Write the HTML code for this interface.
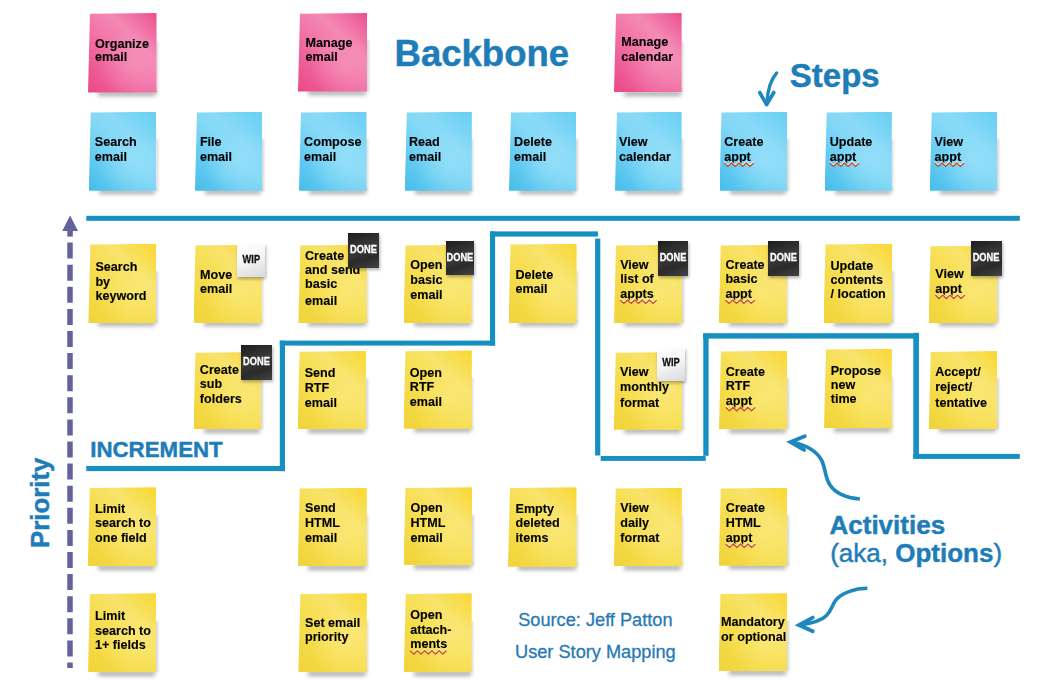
<!DOCTYPE html><html><head><meta charset="utf-8"><style>
*{margin:0;padding:0;box-sizing:border-box}
html,body{width:1062px;height:686px;overflow:hidden;background:#fff}
body{position:relative;font-family:"Liberation Sans",sans-serif}
.n{position:absolute;clip-path:polygon(2px 0.8px,100% 0,100% 100%,0 100%)}
.sh2{position:absolute;background:rgba(60,60,60,.22);filter:blur(1px)}
.sh{position:absolute;background:rgba(60,60,60,.42);filter:blur(2px)}
.n.y{background:radial-gradient(ellipse 50% 45% at 65% 62%,rgba(252,238,140,.5),rgba(252,238,140,0)),linear-gradient(45deg,#f1d33a 0%,#f5db48 30%,#f7e05a 55%,#f8e36c 68%,#f8dd4e 85%,#fad832 100%)}
.n.b{background:radial-gradient(ellipse 50% 45% at 65% 65%,rgba(160,228,250,.55),rgba(160,228,250,0)),linear-gradient(45deg,#45bce8 0%,#66ccf2 28%,#84d8f6 52%,#88daf7 66%,#76d4f5 85%,#68cff4 100%)}
.n.p{background:radial-gradient(ellipse 50% 45% at 65% 65%,rgba(248,160,195,.5),rgba(248,160,195,0)),linear-gradient(45deg,#eb4888 0%,#ef639c 30%,#f27eae 55%,#f388b3 68%,#f06ba2 85%,#ee4c8c 100%)}
.wrap{position:absolute;left:0;top:0;width:1062px;height:686px;z-index:1}
.t{position:absolute;font-weight:bold;font-size:12.6px;line-height:1;color:#000;white-space:nowrap;-webkit-text-stroke:0.12px #000;transform:scaleY(1.06);transform-origin:0 10.67px}
.tag{position:absolute;z-index:3}
.tag{box-shadow:1px 2px 3px rgba(0,0,0,.3)}
.done{background:linear-gradient(160deg,#1c1c1c 0%,#3a3a3a 45%,#2a2a2a 70%,#444 100%)}
.wip{background:linear-gradient(160deg,#ffffff 0%,#f4f4f6 50%,#d8d8de 100%)}
.tt{position:absolute;font-weight:bold;font-size:9.3px;line-height:1;white-space:nowrap;transform:scaleY(1.1);transform-origin:0 7.62px}
.h{position:absolute;color:#1e7db9;font-weight:bold;white-space:nowrap;line-height:1;-webkit-text-stroke:0.45px #1e7db9}
.s{position:absolute;color:#267ab4;white-space:nowrap;line-height:1;-webkit-text-stroke:0.3px #267ab4}
</style></head><body>
<div class="sh" style="left:98px;top:91px;width:57.5px;height:5px"></div>
<div class="sh" style="left:308px;top:90px;width:58px;height:5px"></div>
<div class="sh" style="left:624px;top:90.5px;width:56.6px;height:5px"></div>
<div class="sh" style="left:98.8px;top:189.3px;width:56.7px;height:5px"></div>
<div class="sh" style="left:205px;top:189.3px;width:56px;height:5px"></div>
<div class="sh" style="left:309px;top:189.3px;width:56.5px;height:5px"></div>
<div class="sh" style="left:414.8px;top:189.3px;width:56px;height:5px"></div>
<div class="sh" style="left:519px;top:189.3px;width:56.4px;height:5px"></div>
<div class="sh" style="left:625px;top:189.3px;width:55.6px;height:5px"></div>
<div class="sh" style="left:729.5px;top:189.3px;width:56.5px;height:5px"></div>
<div class="sh" style="left:834.7px;top:189.3px;width:56.1px;height:5px"></div>
<div class="sh" style="left:939.8px;top:189.3px;width:56.6px;height:5px"></div>
<div class="sh" style="left:98.4px;top:321.4px;width:56.9px;height:5px"></div>
<div class="sh" style="left:203.5px;top:321.4px;width:57.2px;height:5px"></div>
<div class="sh" style="left:308.4px;top:321.4px;width:57.4px;height:5px"></div>
<div class="sh" style="left:413.5px;top:321.4px;width:57.2px;height:5px"></div>
<div class="sh" style="left:518.6px;top:321.4px;width:57px;height:5px"></div>
<div class="sh" style="left:624px;top:321.4px;width:57px;height:5px"></div>
<div class="sh" style="left:728.8px;top:321.4px;width:57px;height:5px"></div>
<div class="sh" style="left:833.5px;top:321.4px;width:57.8px;height:5px"></div>
<div class="sh" style="left:938.5px;top:321.4px;width:57.9px;height:5px"></div>
<div class="sh" style="left:203.5px;top:427.7px;width:56.5px;height:5px"></div>
<div class="sh" style="left:307.6px;top:427.7px;width:57.8px;height:5px"></div>
<div class="sh" style="left:413.5px;top:427.3px;width:57.4px;height:5px"></div>
<div class="sh" style="left:623.8px;top:428.2px;width:57.2px;height:5px"></div>
<div class="sh" style="left:729px;top:427.5px;width:57px;height:5px"></div>
<div class="sh" style="left:834px;top:426.8px;width:56.9px;height:5px"></div>
<div class="sh" style="left:938.8px;top:427.4px;width:57.6px;height:5px"></div>
<div class="sh" style="left:97.8px;top:564.8px;width:57.5px;height:5px"></div>
<div class="sh" style="left:307.8px;top:564.8px;width:58px;height:5px"></div>
<div class="sh" style="left:413.5px;top:564px;width:57.8px;height:5px"></div>
<div class="sh" style="left:518px;top:565.2px;width:57.5px;height:5px"></div>
<div class="sh" style="left:623.8px;top:564.8px;width:57.1px;height:5px"></div>
<div class="sh" style="left:728.8px;top:564.3px;width:57.6px;height:5px"></div>
<div class="sh" style="left:98px;top:670.8px;width:57.3px;height:5px"></div>
<div class="sh" style="left:308.4px;top:670.8px;width:57.4px;height:5px"></div>
<div class="sh" style="left:413.8px;top:670.8px;width:56.9px;height:5px"></div>
<div class="sh" style="left:728.5px;top:669.8px;width:57.5px;height:5px"></div>
<div class="sh2" style="left:155.5px;top:40.83px;width:2.5px;height:51.68px"></div>
<div class="sh2" style="left:366px;top:40.47px;width:2.5px;height:51.02px"></div>
<div class="sh2" style="left:680.6px;top:40.65px;width:2.5px;height:51.35px"></div>
<div class="sh2" style="left:155.5px;top:139.45px;width:2.5px;height:51.35px"></div>
<div class="sh2" style="left:261px;top:139.45px;width:2.5px;height:51.35px"></div>
<div class="sh2" style="left:365.5px;top:139.45px;width:2.5px;height:51.35px"></div>
<div class="sh2" style="left:470.8px;top:139.45px;width:2.5px;height:51.35px"></div>
<div class="sh2" style="left:575.4px;top:139.45px;width:2.5px;height:51.35px"></div>
<div class="sh2" style="left:680.6px;top:139.45px;width:2.5px;height:51.35px"></div>
<div class="sh2" style="left:786px;top:139.45px;width:2.5px;height:51.35px"></div>
<div class="sh2" style="left:890.8px;top:139.45px;width:2.5px;height:51.35px"></div>
<div class="sh2" style="left:996.4px;top:139.45px;width:2.5px;height:51.35px"></div>
<div class="sh2" style="left:155.3px;top:271.49px;width:2.5px;height:51.41px"></div>
<div class="sh2" style="left:260.7px;top:272.13px;width:2.5px;height:50.76px"></div>
<div class="sh2" style="left:365.8px;top:272.13px;width:2.5px;height:50.76px"></div>
<div class="sh2" style="left:470.7px;top:272.13px;width:2.5px;height:50.76px"></div>
<div class="sh2" style="left:575.6px;top:271.49px;width:2.5px;height:51.41px"></div>
<div class="sh2" style="left:681px;top:272.13px;width:2.5px;height:50.76px"></div>
<div class="sh2" style="left:785.8px;top:272.13px;width:2.5px;height:50.76px"></div>
<div class="sh2" style="left:891.3px;top:271.49px;width:2.5px;height:51.41px"></div>
<div class="sh2" style="left:996.4px;top:272.52px;width:2.5px;height:50.37px"></div>
<div class="sh2" style="left:260px;top:379.02px;width:2.5px;height:50.18px"></div>
<div class="sh2" style="left:365.4px;top:378.37px;width:2.5px;height:50.83px"></div>
<div class="sh2" style="left:470.9px;top:377.84px;width:2.5px;height:50.96px"></div>
<div class="sh2" style="left:681px;top:379.19px;width:2.5px;height:50.5px"></div>
<div class="sh2" style="left:786px;top:378.17px;width:2.5px;height:50.83px"></div>
<div class="sh2" style="left:890.9px;top:376.62px;width:2.5px;height:51.68px"></div>
<div class="sh2" style="left:996.4px;top:378.33px;width:2.5px;height:50.57px"></div>
<div class="sh2" style="left:155.3px;top:514.88px;width:2.5px;height:51.41px"></div>
<div class="sh2" style="left:365.8px;top:515.27px;width:2.5px;height:51.02px"></div>
<div class="sh2" style="left:471.3px;top:514.61px;width:2.5px;height:50.9px"></div>
<div class="sh2" style="left:575.5px;top:515.09px;width:2.5px;height:51.61px"></div>
<div class="sh2" style="left:680.9px;top:515.27px;width:2.5px;height:51.02px"></div>
<div class="sh2" style="left:786.4px;top:515.1px;width:2.5px;height:50.7px"></div>
<div class="sh2" style="left:155.3px;top:620.88px;width:2.5px;height:51.41px"></div>
<div class="sh2" style="left:365.8px;top:620.88px;width:2.5px;height:51.41px"></div>
<div class="sh2" style="left:470.7px;top:620.88px;width:2.5px;height:51.41px"></div>
<div class="sh2" style="left:786px;top:620.53px;width:2.5px;height:50.76px"></div>
<div class="n p" style="left:88px;top:13px;width:68.5px;height:79.5px"></div>
<div class="n p" style="left:298px;top:13px;width:69px;height:78.5px"></div>
<div class="n p" style="left:614px;top:13px;width:67.6px;height:79px"></div>
<div class="n b" style="left:88.8px;top:111.8px;width:67.7px;height:79px"></div>
<div class="n b" style="left:195px;top:111.8px;width:67px;height:79px"></div>
<div class="n b" style="left:299px;top:111.8px;width:67.5px;height:79px"></div>
<div class="n b" style="left:404.8px;top:111.8px;width:67px;height:79px"></div>
<div class="n b" style="left:509px;top:111.8px;width:67.4px;height:79px"></div>
<div class="n b" style="left:615px;top:111.8px;width:66.6px;height:79px"></div>
<div class="n b" style="left:719.5px;top:111.8px;width:67.5px;height:79px"></div>
<div class="n b" style="left:824.7px;top:111.8px;width:67.1px;height:79px"></div>
<div class="n b" style="left:929.8px;top:111.8px;width:67.6px;height:79px"></div>
<div class="n y" style="left:88.4px;top:243.8px;width:67.9px;height:79.1px"></div>
<div class="n y" style="left:193.5px;top:244.8px;width:68.2px;height:78.1px"></div>
<div class="n y" style="left:298.4px;top:244.8px;width:68.4px;height:78.1px"></div>
<div class="n y" style="left:403.5px;top:244.8px;width:68.2px;height:78.1px"></div>
<div class="n y" style="left:508.6px;top:243.8px;width:68px;height:79.1px"></div>
<div class="n y" style="left:614px;top:244.8px;width:68px;height:78.1px"></div>
<div class="n y" style="left:718.8px;top:244.8px;width:68px;height:78.1px"></div>
<div class="n y" style="left:823.5px;top:243.8px;width:68.8px;height:79.1px"></div>
<div class="n y" style="left:928.5px;top:245.4px;width:68.9px;height:77.5px"></div>
<div class="n y" style="left:193.5px;top:352px;width:67.5px;height:77.2px"></div>
<div class="n y" style="left:297.6px;top:351px;width:68.8px;height:78.2px"></div>
<div class="n y" style="left:403.5px;top:350.4px;width:68.4px;height:78.4px"></div>
<div class="n y" style="left:613.8px;top:352px;width:68.2px;height:77.7px"></div>
<div class="n y" style="left:719px;top:350.8px;width:68px;height:78.2px"></div>
<div class="n y" style="left:824px;top:348.8px;width:67.9px;height:79.5px"></div>
<div class="n y" style="left:928.8px;top:351.1px;width:68.6px;height:77.8px"></div>
<div class="n y" style="left:87.8px;top:487.2px;width:68.5px;height:79.1px"></div>
<div class="n y" style="left:297.8px;top:487.8px;width:69px;height:78.5px"></div>
<div class="n y" style="left:403.5px;top:487.2px;width:68.8px;height:78.3px"></div>
<div class="n y" style="left:508px;top:487.3px;width:68.5px;height:79.4px"></div>
<div class="n y" style="left:613.8px;top:487.8px;width:68.1px;height:78.5px"></div>
<div class="n y" style="left:718.8px;top:487.8px;width:68.6px;height:78px"></div>
<div class="n y" style="left:88px;top:593.2px;width:68.3px;height:79.1px"></div>
<div class="n y" style="left:298.4px;top:593.2px;width:68.4px;height:79.1px"></div>
<div class="n y" style="left:403.8px;top:593.2px;width:67.9px;height:79.1px"></div>
<div class="n y" style="left:718.5px;top:593.2px;width:68.5px;height:78.1px"></div>
<div class="tag wip" style="left:237.2px;top:243.8px;width:28.3px;height:33px"></div>
<div class="tag done" style="left:348px;top:232.9px;width:30.9px;height:35.4px"></div>
<div class="tag done" style="left:445.6px;top:241px;width:28.6px;height:34.3px"></div>
<div class="tag done" style="left:658.2px;top:241px;width:29.8px;height:35.2px"></div>
<div class="tag done" style="left:768px;top:241px;width:30.9px;height:35.2px"></div>
<div class="tag done" style="left:970.5px;top:241.1px;width:31.2px;height:35.2px"></div>
<div class="tag done" style="left:241.2px;top:344.8px;width:30.7px;height:35.4px"></div>
<div class="tag wip" style="left:657.2px;top:347.8px;width:27.5px;height:33.2px"></div>
<div class="t" style="left:95px;top:37.83px">Organize</div>
<div class="t" style="left:95px;top:51.23px">email</div>
<div class="t" style="left:305.6px;top:36.63px">Manage</div>
<div class="t" style="left:305.6px;top:51.23px">email</div>
<div class="t" style="left:621.3px;top:36.13px">Manage</div>
<div class="t" style="left:621.3px;top:50.63px">calendar</div>
<div class="t" style="left:94.8px;top:136.23px">Search</div>
<div class="t" style="left:94.8px;top:150.73px">email</div>
<div class="t" style="left:199.9px;top:136.23px">File</div>
<div class="t" style="left:199.9px;top:150.73px">email</div>
<div class="t" style="left:304.1px;top:136.23px">Compose</div>
<div class="t" style="left:304.1px;top:150.73px">email</div>
<div class="t" style="left:409px;top:136.23px">Read</div>
<div class="t" style="left:409px;top:150.73px">email</div>
<div class="t" style="left:514.1px;top:136.23px">Delete</div>
<div class="t" style="left:514.1px;top:150.73px">email</div>
<div class="t" style="left:619px;top:136.23px">View</div>
<div class="t" style="left:619px;top:150.73px">calendar</div>
<div class="t" style="left:724.2px;top:136.23px">Create</div>
<div class="t" style="left:724.2px;top:150.73px">appt</div>
<div class="t" style="left:829.7px;top:136.23px">Update</div>
<div class="t" style="left:829.7px;top:150.73px">appt</div>
<div class="t" style="left:934.6px;top:136.23px">View</div>
<div class="t" style="left:934.6px;top:150.73px">appt</div>
<div class="t" style="left:95.4px;top:261.03px">Search</div>
<div class="t" style="left:95.4px;top:275.83px">by</div>
<div class="t" style="left:95.4px;top:290.03px">keyword</div>
<div class="t" style="left:200px;top:268.93px">Move</div>
<div class="t" style="left:200px;top:282.63px">email</div>
<div class="t" style="left:305px;top:250.03px">Create</div>
<div class="t" style="left:305px;top:263.83px">and send</div>
<div class="t" style="left:305px;top:278.33px">basic</div>
<div class="t" style="left:305px;top:295.23px">email</div>
<div class="t" style="left:410.2px;top:258.93px">Open</div>
<div class="t" style="left:410.2px;top:273.63px">basic</div>
<div class="t" style="left:410.2px;top:288.63px">email</div>
<div class="t" style="left:515.4px;top:268.93px">Delete</div>
<div class="t" style="left:515.4px;top:282.63px">email</div>
<div class="t" style="left:620.2px;top:258.93px">View</div>
<div class="t" style="left:620.2px;top:272.63px">list of</div>
<div class="t" style="left:620.2px;top:287.73px">appts</div>
<div class="t" style="left:725.4px;top:258.93px">Create</div>
<div class="t" style="left:725.4px;top:273.23px">basic</div>
<div class="t" style="left:725.4px;top:287.73px">appt</div>
<div class="t" style="left:830.5px;top:260.03px">Update</div>
<div class="t" style="left:830.5px;top:273.63px">contents</div>
<div class="t" style="left:830.5px;top:288.33px">/ location</div>
<div class="t" style="left:935.3px;top:268.33px">View</div>
<div class="t" style="left:935.3px;top:282.93px">appt</div>
<div class="t" style="left:199.8px;top:363.83px">Create</div>
<div class="t" style="left:199.8px;top:378.33px">sub</div>
<div class="t" style="left:199.8px;top:392.63px">folders</div>
<div class="t" style="left:304.7px;top:366.63px">Send</div>
<div class="t" style="left:304.7px;top:381.73px">RTF</div>
<div class="t" style="left:304.7px;top:396.83px">email</div>
<div class="t" style="left:409.8px;top:366.63px">Open</div>
<div class="t" style="left:409.8px;top:380.83px">RTF</div>
<div class="t" style="left:409.8px;top:395.83px">email</div>
<div class="t" style="left:620px;top:366.43px">View</div>
<div class="t" style="left:620px;top:381.23px">monthly</div>
<div class="t" style="left:620px;top:396.63px">format</div>
<div class="t" style="left:725.7px;top:366.43px">Create</div>
<div class="t" style="left:725.7px;top:380.33px">RTF</div>
<div class="t" style="left:725.7px;top:395.13px">appt</div>
<div class="t" style="left:830.7px;top:364.83px">Propose</div>
<div class="t" style="left:830.7px;top:378.63px">new</div>
<div class="t" style="left:830.7px;top:393.33px">time</div>
<div class="t" style="left:935.2px;top:366.33px">Accept/</div>
<div class="t" style="left:935.2px;top:381.43px">reject/</div>
<div class="t" style="left:935.2px;top:396.53px">tentative</div>
<div class="t" style="left:95px;top:502.93px">Limit</div>
<div class="t" style="left:95px;top:517.03px">search to</div>
<div class="t" style="left:95px;top:532.13px">one field</div>
<div class="t" style="left:305px;top:502.33px">Send</div>
<div class="t" style="left:305px;top:517.03px">HTML</div>
<div class="t" style="left:305px;top:531.73px">email</div>
<div class="t" style="left:410.5px;top:502.33px">Open</div>
<div class="t" style="left:410.5px;top:517.03px">HTML</div>
<div class="t" style="left:410.5px;top:531.73px">email</div>
<div class="t" style="left:515.5px;top:502.73px">Empty</div>
<div class="t" style="left:515.5px;top:516.53px">deleted</div>
<div class="t" style="left:515.5px;top:531.53px">items</div>
<div class="t" style="left:620.3px;top:502.33px">View</div>
<div class="t" style="left:620.3px;top:517.03px">daily</div>
<div class="t" style="left:620.3px;top:531.73px">format</div>
<div class="t" style="left:725.8px;top:502.33px">Create</div>
<div class="t" style="left:725.8px;top:517.03px">HTML</div>
<div class="t" style="left:725.8px;top:531.73px">appt</div>
<div class="t" style="left:95px;top:609.73px">Limit</div>
<div class="t" style="left:95px;top:624.83px">search to</div>
<div class="t" style="left:95px;top:638.93px">1+ fields</div>
<div class="t" style="left:305px;top:616.93px">Set email</div>
<div class="t" style="left:305px;top:630.53px">priority</div>
<div class="t" style="left:410.2px;top:608.83px">Open</div>
<div class="t" style="left:410.2px;top:623.53px">attach-</div>
<div class="t" style="left:410.2px;top:638.43px">ments</div>
<div class="t" style="left:721.1px;top:615.83px">Mandatory</div>
<div class="t" style="left:721.1px;top:630.53px">or optional</div>
<div class="tt" style="left:237.2px;top:255.58px;width:28.3px;text-align:center;color:#111;-webkit-text-stroke:0.25px #111;z-index:4">WIP</div>
<div class="tt" style="left:348px;top:246.08px;width:30.9px;text-align:center;color:#fff;-webkit-text-stroke:0.25px #fff;z-index:4">DONE</div>
<div class="tt" style="left:445.6px;top:253.88px;width:28.6px;text-align:center;color:#fff;-webkit-text-stroke:0.25px #fff;z-index:4">DONE</div>
<div class="tt" style="left:658.2px;top:253.68px;width:29.8px;text-align:center;color:#fff;-webkit-text-stroke:0.25px #fff;z-index:4">DONE</div>
<div class="tt" style="left:768px;top:253.68px;width:30.9px;text-align:center;color:#fff;-webkit-text-stroke:0.25px #fff;z-index:4">DONE</div>
<div class="tt" style="left:970.5px;top:253.68px;width:31.2px;text-align:center;color:#fff;-webkit-text-stroke:0.25px #fff;z-index:4">DONE</div>
<div class="tt" style="left:241.2px;top:357.98px;width:30.7px;text-align:center;color:#fff;-webkit-text-stroke:0.25px #fff;z-index:4">DONE</div>
<div class="tt" style="left:657.2px;top:359.08px;width:27.5px;text-align:center;color:#111;-webkit-text-stroke:0.25px #111;z-index:4">WIP</div>
<svg class="wrap" width="1062" height="686" viewBox="0 0 1062 686" style="position:absolute;left:0;top:0;z-index:2">
<rect x="86.3" y="215.8" width="933.5" height="5" fill="#1690c0"/>
<rect x="86.3" y="465.9" width="198.5" height="5.2" fill="#1690c0"/>
<rect x="279.8" y="340.6" width="5.2" height="130.5" fill="#1690c0"/>
<rect x="279.8" y="340.6" width="215.3" height="5" fill="#1690c0"/>
<rect x="490" y="231.4" width="5.1" height="114.2" fill="#1690c0"/>
<rect x="490" y="231.4" width="108" height="5.2" fill="#1690c0"/>
<rect x="595.1" y="238.6" width="5.2" height="216.9" fill="#1690c0"/>
<rect x="600.7" y="456" width="105" height="4.9" fill="#1690c0"/>
<rect x="703.3" y="333.8" width="5.3" height="122" fill="#1690c0"/>
<rect x="703.1" y="333.2" width="215.8" height="5.4" fill="#1690c0"/>
<rect x="913.3" y="332.8" width="5.6" height="125.9" fill="#1690c0"/>
<rect x="913.3" y="453.9" width="106.5" height="5" fill="#1690c0"/>
<line x1="70" y1="242.6" x2="70" y2="668" stroke="#64629c" stroke-width="5.5" stroke-dasharray="16 6.1"/>
<path d="M70.1 215.5 L78 231 L62.2 231 Z" fill="#64629c"/>
<rect x="67.3" y="229" width="5.5" height="7.6" fill="#64629c"/>
<path d="M776.6 73 C771 79.5, 767.6 89, 766.9 103" fill="none" stroke="#1e88bd" stroke-width="3.4" stroke-linecap="round"/>
<path d="M759.8 92.6 L766.6 104.6 L773.7 92.6" fill="none" stroke="#1e88bd" stroke-width="3.8" stroke-linecap="round" stroke-linejoin="round"/>
<path d="M859.9 499 C848 498, 836 494, 830 485 C825 478, 826 470, 822 461 C817 451, 806 445, 792 442.2" fill="none" stroke="#1e88bd" stroke-width="3.7"/>
<path d="M804.7 436.2 L790.5 442 L804.1 449.9" fill="none" stroke="#1e88bd" stroke-width="3.9" stroke-linecap="round" stroke-linejoin="miter"/>
<path d="M867.4 588.3 C855 588.3, 841 593, 835.5 600.5 C831.5 606, 832 610, 826 616 C821 621, 810 623.5, 800.5 625" fill="none" stroke="#1e88bd" stroke-width="3.6"/>
<path d="M812.7 617.6 L799 625 L812.7 631.2" fill="none" stroke="#1e88bd" stroke-width="3.9" stroke-linecap="round" stroke-linejoin="miter"/>
<polyline points="724.2,162.9 727.89,166.4 731.58,162.9 735.26,166.4 738.95,162.9 742.64,166.4 746.33,162.9 750.01,166.4 753.7,162.9" fill="none" stroke="#fff" stroke-opacity=".8" stroke-width="1.3" transform="translate(0,-1.2)"/>
<polyline points="724.2,162.9 727.89,166.4 731.58,162.9 735.26,166.4 738.95,162.9 742.64,166.4 746.33,162.9 750.01,166.4 753.7,162.9" fill="none" stroke="#c9502c" stroke-width="1.4"/>
<polyline points="829.7,162.9 833.39,166.4 837.08,162.9 840.76,166.4 844.45,162.9 848.14,166.4 851.83,162.9 855.51,166.4 859.2,162.9" fill="none" stroke="#fff" stroke-opacity=".8" stroke-width="1.3" transform="translate(0,-1.2)"/>
<polyline points="829.7,162.9 833.39,166.4 837.08,162.9 840.76,166.4 844.45,162.9 848.14,166.4 851.83,162.9 855.51,166.4 859.2,162.9" fill="none" stroke="#c9502c" stroke-width="1.4"/>
<polyline points="934.6,162.9 938.29,166.4 941.98,162.9 945.66,166.4 949.35,162.9 953.04,166.4 956.73,162.9 960.41,166.4 964.1,162.9" fill="none" stroke="#fff" stroke-opacity=".8" stroke-width="1.3" transform="translate(0,-1.2)"/>
<polyline points="934.6,162.9 938.29,166.4 941.98,162.9 945.66,166.4 949.35,162.9 953.04,166.4 956.73,162.9 960.41,166.4 964.1,162.9" fill="none" stroke="#c9502c" stroke-width="1.4"/>
<polyline points="620.2,299.9 623.85,303.4 627.5,299.9 631.15,303.4 634.8,299.9 638.45,303.4 642.1,299.9 645.75,303.4 649.4,299.9 653.05,303.4 656.7,299.9" fill="none" stroke="#fff" stroke-opacity=".8" stroke-width="1.3" transform="translate(0,-1.2)"/>
<polyline points="620.2,299.9 623.85,303.4 627.5,299.9 631.15,303.4 634.8,299.9 638.45,303.4 642.1,299.9 645.75,303.4 649.4,299.9 653.05,303.4 656.7,299.9" fill="none" stroke="#c9502c" stroke-width="1.4"/>
<polyline points="725.4,299.9 729.09,303.4 732.77,299.9 736.46,303.4 740.15,299.9 743.84,303.4 747.52,299.9 751.21,303.4 754.9,299.9" fill="none" stroke="#fff" stroke-opacity=".8" stroke-width="1.3" transform="translate(0,-1.2)"/>
<polyline points="725.4,299.9 729.09,303.4 732.77,299.9 736.46,303.4 740.15,299.9 743.84,303.4 747.52,299.9 751.21,303.4 754.9,299.9" fill="none" stroke="#c9502c" stroke-width="1.4"/>
<polyline points="935.3,295.1 938.99,298.6 942.67,295.1 946.36,298.6 950.05,295.1 953.74,298.6 957.42,295.1 961.11,298.6 964.8,295.1" fill="none" stroke="#fff" stroke-opacity=".8" stroke-width="1.3" transform="translate(0,-1.2)"/>
<polyline points="935.3,295.1 938.99,298.6 942.67,295.1 946.36,298.6 950.05,295.1 953.74,298.6 957.42,295.1 961.11,298.6 964.8,295.1" fill="none" stroke="#c9502c" stroke-width="1.4"/>
<polyline points="725.7,407.3 729.39,410.8 733.08,407.3 736.76,410.8 740.45,407.3 744.14,410.8 747.83,407.3 751.51,410.8 755.2,407.3" fill="none" stroke="#fff" stroke-opacity=".8" stroke-width="1.3" transform="translate(0,-1.2)"/>
<polyline points="725.7,407.3 729.39,410.8 733.08,407.3 736.76,410.8 740.45,407.3 744.14,410.8 747.83,407.3 751.51,410.8 755.2,407.3" fill="none" stroke="#c9502c" stroke-width="1.4"/>
<polyline points="725.8,543.9 729.49,547.4 733.17,543.9 736.86,547.4 740.55,543.9 744.24,547.4 747.92,543.9 751.61,547.4 755.3,543.9" fill="none" stroke="#fff" stroke-opacity=".8" stroke-width="1.3" transform="translate(0,-1.2)"/>
<polyline points="725.8,543.9 729.49,547.4 733.17,543.9 736.86,547.4 740.55,543.9 744.24,547.4 747.92,543.9 751.61,547.4 755.3,543.9" fill="none" stroke="#c9502c" stroke-width="1.4"/>
<polyline points="410.2,650.6 413.82,654.1 417.44,650.6 421.06,654.1 424.68,650.6 428.3,654.1 431.92,650.6 435.54,654.1 439.16,650.6 442.78,654.1 446.4,650.6" fill="none" stroke="#fff" stroke-opacity=".8" stroke-width="1.3" transform="translate(0,-1.2)"/>
<polyline points="410.2,650.6 413.82,654.1 417.44,650.6 421.06,654.1 424.68,650.6 428.3,654.1 431.92,650.6 435.54,654.1 439.16,650.6 442.78,654.1 446.4,650.6" fill="none" stroke="#c9502c" stroke-width="1.4"/>
</svg>
<div class="h" style="left:394.6px;top:35.9px;font-size:36.5px;z-index:5;">Backbone</div>
<div class="h" style="left:789.8px;top:58.67px;font-size:33px;z-index:5;">Steps</div>
<div class="h" style="left:90.2px;top:439.32px;font-size:22.3px;z-index:5;">INCREMENT</div>
<div class="h" style="left:829.5px;top:511.59px;font-size:26px;z-index:5;">Activities</div>
<div class="h" style="left:830.2px;top:540.39px;font-size:26px;z-index:5;"><span style="font-weight:normal">(aka, </span>Options<span style="font-weight:normal">)</span></div>
<div class="s" style="left:518.2px;top:610.99px;font-size:18.2px;z-index:5;">Source: Jeff Patton</div>
<div class="s" style="left:515px;top:643.09px;font-size:18.2px;z-index:5;">User Story Mapping</div>
<div class="h" style="left:51.2px;top:548.2px;font-size:25.8px;transform-origin:0 0;transform:rotate(-90deg) translate(0,-22.62px);z-index:5">Priority</div>
</body></html>
